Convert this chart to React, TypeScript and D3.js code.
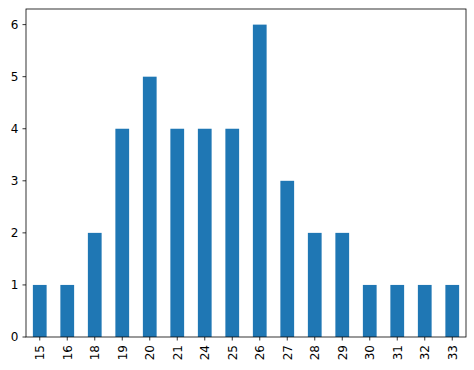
import React from "react";
import * as d3 from "d3";

const categories = ["15","16","18","19","20","21","24","25","26","27","28","29","30","31","32","33"];
const counts = [1,1,2,4,5,4,4,4,6,3,2,2,1,1,1,1];
const yTicks = [0,1,2,3,4,5,6];

export default function App() {
  const W = 474, H = 370;
  const left = 26, right = 466, top = 9, bottom = 337;
  const x = d3.scaleLinear().domain([-0.5, categories.length - 0.5]).range([left, right]);
  const y = d3.scaleLinear().domain([0, 6.3]).range([bottom, top]);
  const bw = x(0.25) - x(-0.25);
  const font = "DejaVu Sans, sans-serif";
  return (
    <svg width={W} height={H} style={{ position: "absolute", left: 0, top: 0 }} fontFamily={font}>
      <rect width={W} height={H} fill="white" />
      {counts.map((v, i) => (
        <rect key={i} x={x(i) - bw / 2} y={y(v)} width={bw} height={y(0) - y(v)} fill="#1f77b4" />
      ))}
      {yTicks.map(t => (
        <g key={t}>
          <line x1={left - 3.5} x2={left} y1={y(t)} y2={y(t)} stroke="#000" strokeWidth={0.8} />
          <text x={left - 7.5} y={y(t)} dy="0.36em" textAnchor="end" fontSize={12}>{t}</text>
        </g>
      ))}
      {categories.map((c, i) => (
        <g key={c}>
          <line x1={x(i)} x2={x(i)} y1={bottom} y2={bottom + 3.5} stroke="#000" strokeWidth={0.8} />
          <text transform={`translate(${x(i)},${bottom + 8}) rotate(-90)`} textAnchor="end" dy="0.36em" fontSize={12}>{c}</text>
        </g>
      ))}
      <rect x={left} y={top} width={right - left} height={bottom - top} fill="none" stroke="#000" strokeWidth={0.8} />
    </svg>
  );
}
